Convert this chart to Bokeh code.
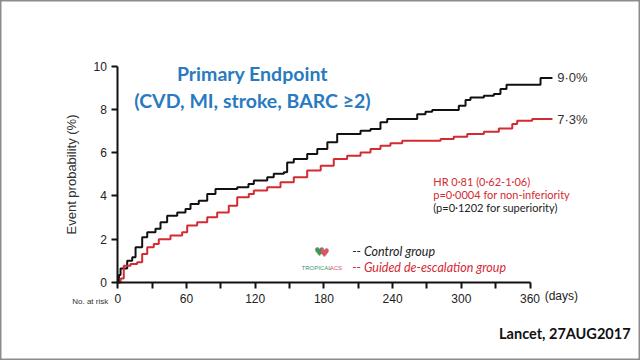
from bokeh.plotting import figure
from bokeh.models import Range1d, FixedTicker, Label
from bokeh.embed import file_html
from bokeh.resources import INLINE

# ---- data (days, event probability %) ----
ctrl_days = [0, 1.0, 2.4, 8.2, 12.6, 15.5, 21.3, 25.7, 32.9, 37.3, 43.1, 51.9, 59.1,
             63.5, 70.7, 78.1, 85.3, 104.3, 114.1, 118.8, 130.5, 136.2, 145.0, 147.9,
             153.7, 165.4, 174.2, 183.0, 191.6, 212.0, 220.7, 229.4, 235.3, 261.5,
             268.7, 274.6, 297.8, 303.7, 308.0, 319.7, 328.4, 334.2, 339.5, 369.2, 379.6]
ctrl_vals = [0, 0.35, 0.65, 1.0, 1.17, 1.63, 2.09, 2.32, 2.48, 2.78, 3.09, 3.24, 3.40,
             3.63, 3.78, 4.09, 4.32, 4.40, 4.55, 4.71, 4.86, 5.02, 5.09, 5.55,
             5.71, 5.94, 6.17, 6.48, 6.86, 7.01, 7.09, 7.40, 7.55, 7.78,
             7.89, 7.97, 8.17, 8.43, 8.55, 8.63, 8.71, 8.94, 9.14, 9.45, 9.45]

guided_days = [0, 2.4, 5.2, 11.1, 16.9, 21.3, 25.7, 31.4, 35.8, 46.0, 56.2, 60.6, 69.3,
               78.1, 86.8, 96.9, 104.3, 114.4, 118.8, 130.5, 142.1, 153.7, 165.4, 177.2,
               188.6, 200.3, 212.0, 220.7, 229.4, 238.1, 248.4, 281.9, 293.4, 305.2,
               319.7, 332.8, 344.5, 348.8, 361.9, 379.6]
guided_vals = [0, 0.18, 0.78, 0.86, 0.94, 1.32, 1.63, 1.78, 2.0, 2.17, 2.32, 2.63, 2.78,
               3.01, 3.24, 3.55, 3.94, 4.09, 4.25, 4.40, 4.63, 4.86, 5.17, 5.40,
               5.71, 5.86, 6.01, 6.17, 6.32, 6.43, 6.55, 6.63, 6.74, 6.86,
               6.97, 7.12, 7.32, 7.48, 7.55, 7.55]

x_major = [0, 60, 120, 180, 240, 300, 360]
x_minor = [30, 90, 150, 210, 270, 330]
y_major = [0, 2, 4, 6, 8, 10]

ctrl_end_label = "9·0%"
guided_end_label = "7·3%"

RED = "#d42a32"
BLUE = "#2a7ac0"
SANS = "Liberation Sans"
CAL = "Lato"

W, H = 640, 360
p = figure(width=W, height=H,
           x_range=Range1d(-102.45, 456.5), y_range=Range1d(-3.604, 13.031),
           output_backend="svg", toolbar_location=None,
           min_border=0, min_border_left=0, min_border_right=0,
           min_border_top=0, min_border_bottom=0)
p.outline_line_color = "#8c8c8c"
p.outline_line_width = 2
p.grid.grid_line_color = None
p.background_fill_color = "white"
p.border_fill_color = "white"

p.step(ctrl_days, ctrl_vals, mode="after", line_color="#111111", line_width=2)
p.step(guided_days, guided_vals, mode="after", line_color=RED, line_width=2)

# axes, drawn at the data origin
xa = p.xaxis[0]
xa.ticker = FixedTicker(ticks=x_major, minor_ticks=x_minor)
xa.bounds = (0, 360)
xa.fixed_location = 0
ya = p.yaxis[0]
ya.ticker = FixedTicker(ticks=y_major)
ya.bounds = (0, 10)
ya.fixed_location = 0
for ax in (xa, ya):
    ax.axis_line_width = 2
    ax.axis_line_color = "#111111"
    ax.major_tick_line_width = 2
    ax.major_tick_line_color = "#111111"
    ax.minor_tick_line_width = 2
    ax.minor_tick_line_color = "#111111"
    ax.major_tick_in = 0
    ax.major_tick_out = 6
    ax.minor_tick_in = 0
    ax.minor_tick_out = 6
    ax.major_label_text_font = SANS
    ax.major_label_text_font_size = "12px"
    ax.major_label_text_color = "#222222"
    ax.major_label_standoff = 5
ya.minor_tick_line_color = None
ya.axis_label = "Event probability (%)"
ya.axis_label_text_font = SANS
ya.axis_label_text_font_size = "13px"
ya.axis_label_text_font_style = "normal"
ya.axis_label_text_color = "#333333"
ya.axis_label_standoff = 11


def lab(x, y, text, size, color="#222222", font=SANS, style="normal",
        align="left", baseline="middle"):
    p.add_layout(Label(x=x, y=y, text=text, text_font=font,
                       text_font_size=size, text_color=color,
                       text_font_style=style, text_align=align,
                       text_baseline=baseline))


# title
lab(117.6, 9.66, "Primary Endpoint", "19.5px", BLUE, CAL, "bold", "center")
lab(117.6, 8.41, "(CVD, MI, stroke, BARC ≥2)", "19.5px", BLUE, CAL, "bold", "center")

# end labels
lab(383.8, 9.47, ctrl_end_label, "13px", "#333333")
lab(383.8, 7.51, guided_end_label, "13px", "#333333")

# statistics
lab(275.5, 4.67, "HR 0·81 (0·62-1·06)", "11px", RED, CAL)
lab(275.5, 4.05, "p=0·0004 for non-inferiority", "11px", RED, CAL)
lab(275.5, 3.48, "(p=0·1202 for superiority)", "11px", "#222222", CAL)

# legend-like texts and logo
lab(176.0, 1.42, "♥", "12px", "#3a9a66", "DejaVu Sans", "normal", "center")
lab(180.5, 1.37, "♥", "12px", "#d8575f", "DejaVu Sans", "normal", "center")
lab(173.5, 0.69, "TROPICAL", "6px", "#3a9a70", SANS, "normal", "center")
lab(190.5, 0.69, "ACS", "6px", "#d8575f", SANS, "normal", "center")
lab(204.7, 1.45, "-- Control group", "12.5px", "#222222", CAL, "italic")
lab(204.7, 0.71, "-- Guided de-escalation group", "12.5px", RED, CAL, "italic")

# texts below the axis
lab(-39.8, -0.88, "No. at risk", "8px", "#333333")
lab(372.8, -0.64, "(days)", "12px", "#222222")
lab(447.8, -2.36, "Lancet, 27AUG2017", "14.5px", "#111111", CAL, "bold", "right")

open("out.html", "w").write(file_html(p, INLINE))
